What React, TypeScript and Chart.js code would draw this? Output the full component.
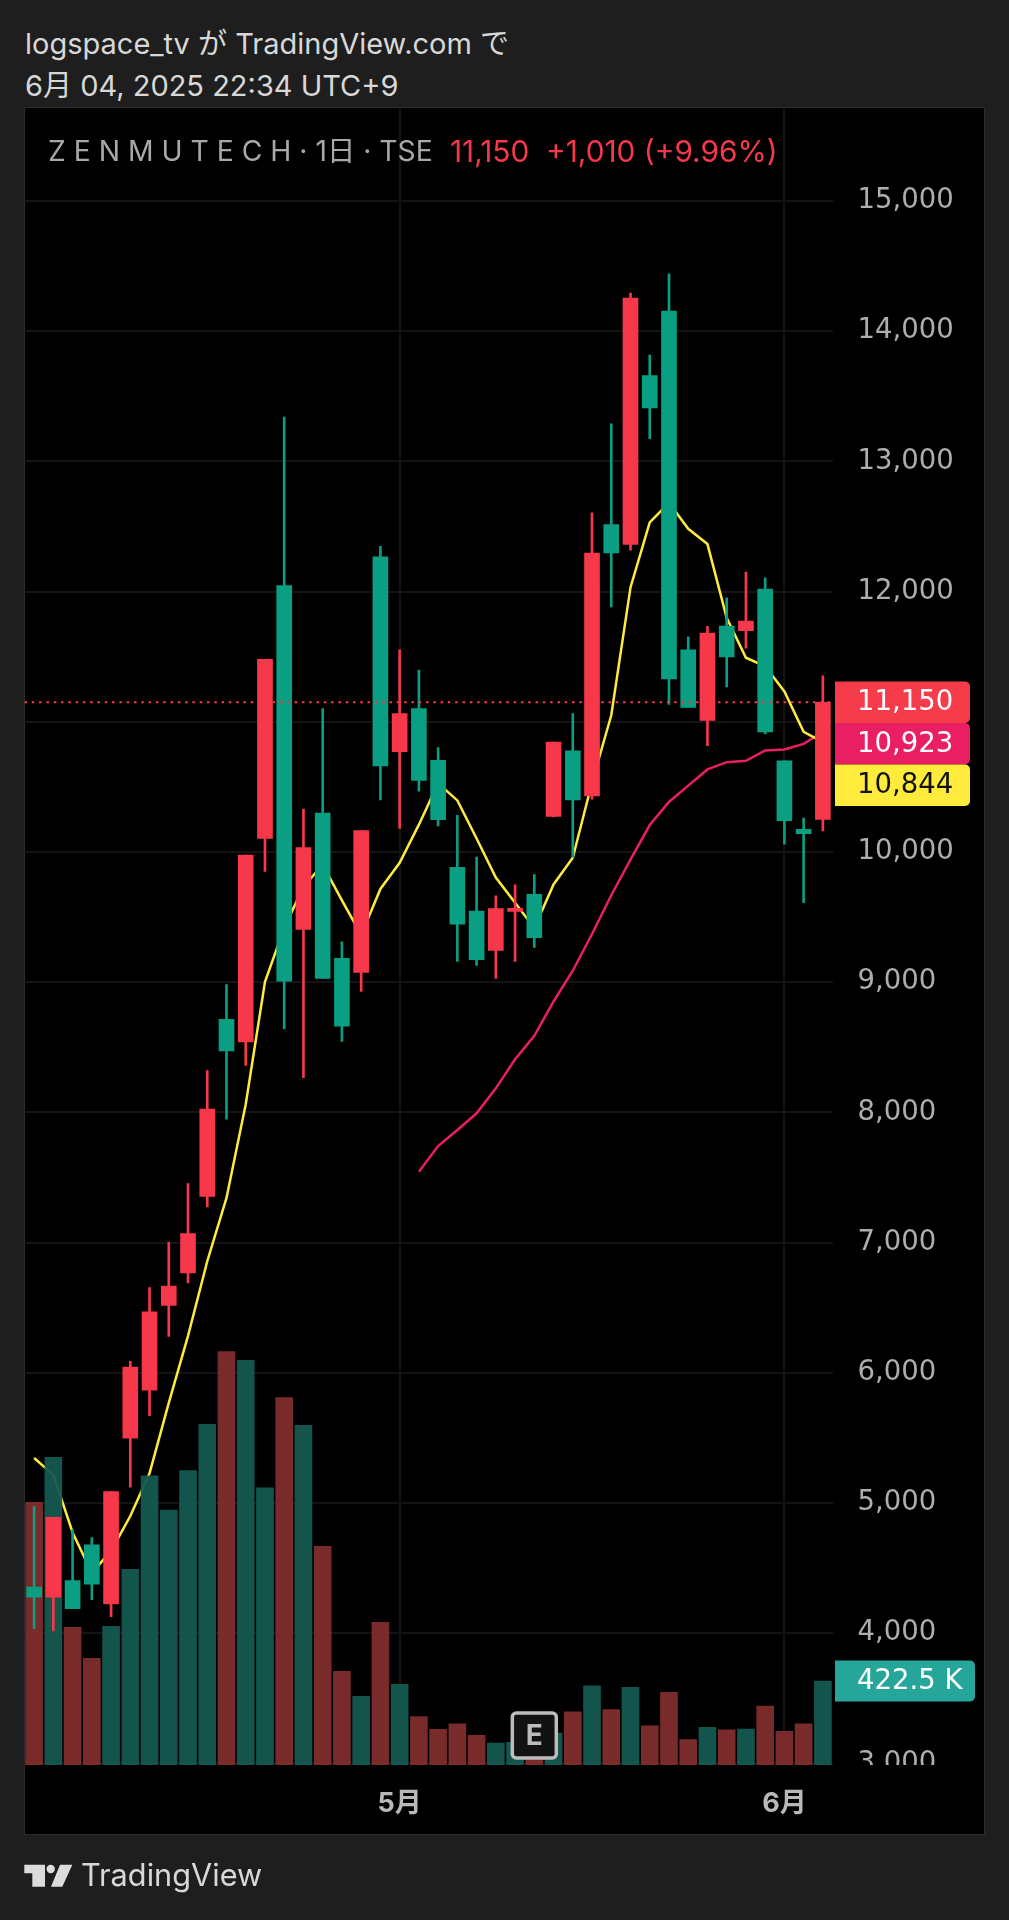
import React, { useEffect, useRef } from 'react';
import { Chart, registerables } from 'chart.js';

Chart.register(...registerables);

// trading days, 3 Apr - 4 Jun 2025
const dates = [
  '04-03', '04-04', '04-07', '04-08', '04-09', '04-10', '04-11', '04-14', '04-15', '04-16', '04-17', '04-18', '04-21', '04-22',
  '04-23', '04-24', '04-25', '04-28', '04-30', '05-01', '05-02', '05-07', '05-08', '05-09', '05-12', '05-13', '05-14', '05-15',
  '05-16', '05-19', '05-20', '05-21', '05-22', '05-23', '05-26', '05-27', '05-28', '05-29', '05-30', '06-02', '06-03', '06-04',
];
const opens = [
  4354, 4277, 4405, 4678, 4226, 5499, 5867, 6517, 6767, 7354, 8715, 8542, 10105, 12047, 9406, 10298, 9184, 9075, 12266, 10771, 11102,
  10704, 9882, 9547, 9244, 9543, 9674, 10274, 10777, 10430, 12515, 12362, 13658, 14154, 11552, 11010, 11736, 11699, 12019, 10700, 10174, 10250,
];
const highs = [
  4973, 4891, 4797, 4735, 5087, 6088, 6655, 7005, 7454, 8321, 8982, 9976, 11479, 13341, 10330, 11102, 9311, 10164, 12347, 11553, 11398,
  10802, 10281, 9960, 9663, 9748, 9826, 10845, 11063, 12604, 13288, 14293, 13817, 14440, 11653, 11733, 11952, 12149, 12105, 10700, 10260, 11353,
];
const lows = [
  4035, 4018, 4189, 4258, 4127, 5122, 5670, 6279, 6690, 7275, 7948, 8360, 9850, 8644, 8267, 9029, 8546, 8930, 10400, 10182, 10467,
  10200, 9159, 9128, 9029, 9159, 9268, 10269, 9960, 10406, 11883, 12319, 13174, 11133, 11110, 10817, 11267, 11566, 10906, 10061, 9611, 10161,
];
const closes = [
  4277, 4891, 4189, 4377, 5087, 6045, 6469, 6667, 7069, 8025, 8472, 9976, 11479, 9007, 10033, 9029, 8662, 10164, 10662, 11064, 10549,
  10248, 9445, 9173, 9565, 9568, 9342, 10845, 10400, 12296, 12296, 14254, 13411, 11330, 11110, 11682, 11499, 11773, 10923, 10240, 10141, 11150,
];
const volumes = [
  1321, 1548, 692, 536, 698, 984, 1455, 1282, 1481, 1714, 2079, 2036, 1394, 1848, 1708, 1100, 471, 346, 718, 406, 244,
  179, 207, 149, 110, 114, 89, 160, 268, 398, 279, 391, 197, 365, 128, 190, 177, 181, 296, 169, 207, 422.5,
];
const volumeSides = [
  'r', 'g', 'r', 'r', 'g', 'g', 'g', 'g', 'g', 'g', 'r', 'g', 'g', 'r', 'g', 'r', 'r', 'g', 'r', 'g', 'r',
  'r', 'r', 'r', 'g', 'g', 'r', 'g', 'r', 'g', 'r', 'g', 'r', 'r', 'r', 'g', 'r', 'g', 'r', 'r', 'r', 'g',
];
const maFast = [
  5346, 5216, 4774, 4463, 4632, 4900, 5229, 5769, 6284, 6857, 7343, 8063, 9003, 9416, 9734, 9903, 9628, 9363, 9716, 9917, 10210,
  10527, 10396, 10104, 9804, 9610, 9416, 9751, 9956, 10534, 11050, 12032, 12532, 12682, 12482, 12365, 11799, 11492, 11426, 11233, 10923, 10844,
];
const maSlow = [
  null, null, null, null, null, null, null, null, null, null, null, null, null, null, null, null, null, null, null, null, 7545,
  7742, 7865, 7993, 8185, 8408, 8588, 8852, 9088, 9370, 9668, 9941, 10207, 10384, 10510, 10634, 10690, 10700, 10780, 10787, 10830, 10923,
];
const priceTicks = [3000, 4000, 5000, 6000, 7000, 8000, 9000, 10000, 11000, 12000, 13000, 14000, 15000];
const monthLabels: Record<string, string> = { '05-01': '5月', '06-02': '6月' };

const RED = '#f6384a';
const GREEN = '#0a9e82';
const GRID = '#141414';
const FONT = 'Inter, "Noto Sans CJK JP", sans-serif';
const AXIS_FONT = '"DejaVu Sans", sans-serif';
const isDown = (i: number) => closes[i] < opens[i];

const tag = (ctx: CanvasRenderingContext2D, y: number, h: number, w: number, bg: string, fg: string, text: string) => {
  ctx.fillStyle = bg;
  ctx.beginPath();
  ctx.roundRect(835, y, w, h, [0, 5, 5, 0]);
  ctx.fill();
  ctx.fillStyle = fg;
  ctx.font = `27.5px ${AXIS_FONT}`;
  ctx.textAlign = 'left';
  ctx.textBaseline = 'middle';
  ctx.fillText(text, 857, y + h / 2 + 1);
};

const overlays = {
  id: 'overlays',
  afterDatasetsDraw(chart: any) {
    const { ctx, chartArea, scales } = chart;
    ctx.save();
    // last price line
    const y = scales.y.getPixelForValue(closes[closes.length - 1]);
    ctx.strokeStyle = RED;
    ctx.lineWidth = 2;
    ctx.setLineDash([2.5, 4.8]);
    ctx.beginPath();
    ctx.moveTo(chartArea.left, y);
    ctx.lineTo(chartArea.right, y);
    ctx.stroke();
    ctx.setLineDash([]);
    // earnings marker
    const ex = scales.x.getPixelForValue(26);
    ctx.fillStyle = '#121212';
    ctx.strokeStyle = '#bcbcbc';
    ctx.lineWidth = 3.5;
    ctx.beginPath();
    ctx.roundRect(ex - 22, 1713, 44, 45, 4);
    ctx.fill();
    ctx.stroke();
    ctx.fillStyle = '#bcbcbc';
    ctx.font = `bold 28px ${FONT}`;
    ctx.textAlign = 'center';
    ctx.textBaseline = 'middle';
    ctx.fillText('E', ex, 1737);
    ctx.restore();
  },
  afterDraw(chart: any) {
    const { ctx, chartArea, scales } = chart;
    ctx.save();
    // the lowest price label is cut by the time axis
    ctx.fillStyle = '#000';
    ctx.fillRect(chartArea.right, chartArea.bottom, 150, 30);
    const h = 41.5;
    const first = scales.y.getPixelForValue(closes[closes.length - 1]) - h / 2;
    tag(ctx, first, h, 135, '#f63c4a', '#fff', '11,150');
    tag(ctx, first + h, h, 135, '#e91e63', '#fff', '10,923');
    tag(ctx, first + 2 * h, h, 135, '#ffeb3b', '#111', '10,844');
    const vy = scales.volume.getPixelForValue(volumes[volumes.length - 1]);
    tag(ctx, vy - 20.5, 41, 140, '#26a69a', '#fff', '422.5 K');
    ctx.restore();
  },
};

const App: React.FC = () => {
  const chartRef = useRef<HTMLCanvasElement>(null);

  useEffect(() => {
    const ctx = chartRef.current?.getContext('2d');
    if (!ctx) return;

    const myChart = new Chart(ctx, {
      type: 'bar',
      data: {
        labels: dates,
        datasets: [
          {
            type: 'bar',
            data: opens.map((o, i) => [o, closes[i]]),
            backgroundColor: opens.map((_, i) => (isDown(i) ? GREEN : RED)),
            barThickness: 15,
            grouped: false,
            order: 1,
          },
          {
            type: 'bar',
            data: lows.map((l, i) => [l, highs[i]]),
            backgroundColor: opens.map((_, i) => (isDown(i) ? GREEN : RED)),
            barThickness: 2,
            grouped: false,
            order: 2,
          },
          {
            type: 'bar',
            data: volumes,
            yAxisID: 'volume',
            backgroundColor: volumeSides.map((s) => (s === 'r' ? 'rgba(128,44,44,0.95)' : 'rgba(20,88,80,0.95)')),
            barThickness: 17,
            grouped: false,
            order: 3,
          },
          {
            type: 'line',
            data: maFast,
            borderColor: '#ffeb3b',
            borderWidth: 2.5,
            pointRadius: 0,
            tension: 0,
            order: 4,
          },
          {
            type: 'line',
            data: maSlow,
            borderColor: '#e91e63',
            borderWidth: 2.5,
            pointRadius: 0,
            tension: 0,
            order: 4,
          },
        ],
      },
      options: {
        responsive: false,
        animation: false,
        layout: { padding: { left: 24.5, top: 108, right: 25, bottom: 86 } },
        plugins: { legend: { display: false }, title: { display: false }, tooltip: { enabled: false } },
        scales: {
          x: {
            offset: true,
            border: { display: false },
            grid: { offset: false, color: GRID, lineWidth: 2, drawTicks: false },
            ticks: {
              autoSkip: false,
              maxRotation: 0,
              color: '#b8b8b8',
              padding: 23,
              font: { family: FONT, size: 27, weight: 'bold' },
              callback: (value: any) => monthLabels[dates[value]] ?? '',
            },
            afterBuildTicks: (axis: any) => {
              axis.ticks = axis.ticks.filter((t: any) => monthLabels[dates[t.value]]);
            },
            afterFit: (axis: any) => {
              axis.height = 69;
            },
          },
          y: {
            position: 'right',
            min: 2988,
            max: 15714,
            border: { display: false },
            grid: { color: GRID, lineWidth: 2, drawTicks: false },
            ticks: {
              color: '#aeaeae',
              padding: 25,
              font: { family: AXIS_FONT, size: 27.5 },
              callback: (value: any) => Number(value).toLocaleString('en-US'),
            },
            afterBuildTicks: (axis: any) => {
              axis.ticks = priceTicks.map((value) => ({ value }));
            },
            afterFit: (axis: any) => {
              axis.width = 151.5;
            },
          },
          volume: {
            display: false,
            min: 0,
            max: 8335,
            grid: { display: false },
          },
        },
      },
      plugins: [overlays],
    });

    return () => {
      myChart.destroy();
    };
  }, []);

  const textStyle: React.CSSProperties = {
    position: 'absolute',
    fontFamily: FONT,
    fontSize: 29,
    lineHeight: '40px',
    whiteSpace: 'pre',
  };

  return (
    <div style={{ position: 'absolute', left: 0, top: 0, width: 1009, height: 1920, overflow: 'hidden', background: '#1e1e1e' }}>
      <div style={{ ...textStyle, left: 25, top: 24, color: '#d8d8d8' }}>logspace_tv が TradingView.com で</div>
      <div style={{ ...textStyle, left: 25, top: 66, color: '#d8d8d8' }}>6月 04, 2025 22:34 UTC+9</div>
      <div style={{ position: 'absolute', left: 24, top: 107, width: 961, height: 1728, boxSizing: 'border-box', background: '#000', border: '1px solid #2c2c2c' }} />
      <canvas ref={chartRef} width={1009} height={1920} style={{ position: 'absolute', left: 0, top: 0 }} />
      <div style={{ ...textStyle, left: 48, top: 131, fontSize: 28.3, color: '#a8a8a8' }}>Z E N M U T E C H · 1日 · TSE</div>
      <div style={{ ...textStyle, left: 450, top: 131, fontSize: 29.8, color: RED }}>11,150  +1,010 (+9.96%)</div>
      <svg width={60} height={30} style={{ position: 'absolute', left: 20, top: 1860 }}>
        <polygon points="4.3,4.7 25,4.7 25,26.7 12.3,26.7 12.3,13.3 4.3,13.3" fill="#dcdcdc" />
        <circle cx={30.7} cy={9} r={4.2} fill="#dcdcdc" />
        <polygon points="40,4.7 52.3,4.7 42.3,26.7 31,26.7" fill="#dcdcdc" />
      </svg>
      <div style={{ ...textStyle, left: 81, top: 1855, fontSize: 30.7, color: '#d8d8d8' }}>TradingView</div>
    </div>
  );
};

export default App;
